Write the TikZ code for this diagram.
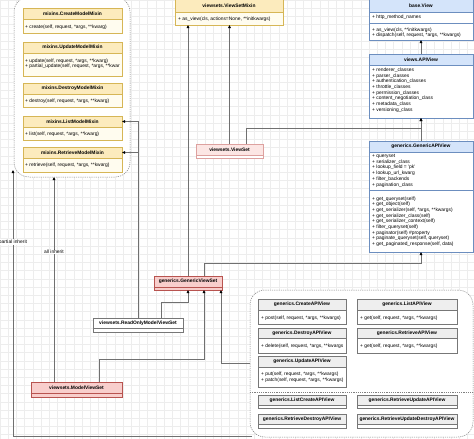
\documentclass[tikz,border=0pt]{standalone}
\usepackage{fontspec}
\setmainfont{Liberation Sans}
\usetikzlibrary{arrows.meta}
\definecolor{yelH}{HTML}{FCEBBD}
\definecolor{yelB}{HTML}{FFFCEF}
\definecolor{yelD}{HTML}{D6B656}
\definecolor{bluH}{HTML}{D4E4FA}
\definecolor{bluD}{HTML}{6C8EBF}
\definecolor{gryH}{HTML}{EEEEEE}
\definecolor{gryD}{HTML}{777777}
\definecolor{pnkH}{HTML}{F8CECC}
\definecolor{pnkD}{HTML}{B85450}
\definecolor{lpkH}{HTML}{FCE6E4}
\definecolor{lpkD}{HTML}{DDA19F}
\definecolor{lineC}{HTML}{707070}
\definecolor{gridC}{HTML}{EDEDED}
\newcommand\klass[8]{%
  \node[#8h, minimum width=#4pt, minimum height=#5pt] (#1) at (#2,#3) {#7};
  \node[#8b, minimum width=#4pt, minimum height=#6pt] (#1b) at (#1.south west) {};}
\begin{document}
\begin{tikzpicture}[x=1pt,y=-1pt,
  box/.style={draw, inner sep=0pt, outer sep=0pt, anchor=north west, line width=0.5pt},
  hd/.style={box, font=\fontsize{4.9}{5.7}\selectfont\bfseries},
  yelh/.style={hd, fill=yelH, draw=yelD}, yelb/.style={box, fill=yelB, draw=yelD},
  bluh/.style={hd, fill=bluH, draw=bluD}, blub/.style={box, fill=white, draw=bluD},
  gryh/.style={hd, fill=gryH, draw=gryD}, gryb/.style={box, fill=white, draw=gryD},
  pnkh/.style={hd, fill=pnkH, draw=pnkD}, pnkb/.style={box, fill=pnkH, draw=pnkD},
  lpkh/.style={hd, fill=lpkH, draw=lpkD}, lpkb/.style={box, fill=white, draw=lpkD},
  whth/.style={hd, fill=white, draw=gryD}, whtb/.style={box, fill=white, draw=gryD},
  txt/.style={anchor=west, inner sep=0pt, font=\fontsize{4.9}{5.7}\selectfont},
  conn/.style={draw=lineC, line width=0.8pt, -{Triangle[length=3pt,width=2.6pt,color=black]}},
  cont/.style={draw=gray, dash pattern=on 1.2pt off 1pt, rounded corners=15pt, fill=white, anchor=north west, inner sep=0pt, outer sep=0pt, line width=0.5pt},
  lbl/.style={fill=white, inner sep=0.6pt, font=\fontsize{4.9}{5.7}\selectfont}]
\useasboundingbox (0,0) rectangle (474,439);
\clip (0,0) rectangle (474,439);
\fill[white] (0,0) rectangle (474,439);
\foreach \i in {0,...,58} \draw[gridC, line width=0.3pt] (\i*8.2,0) -- (\i*8.2,439);
\foreach \i in {0,...,54} \draw[gridC, line width=0.3pt] (0,\i*8.2) -- (474,\i*8.2);

% containers
\node[cont, minimum width=116pt, minimum height=180pt] (mixbox) at (14,-3) {};
\node[cont, minimum width=223pt, minimum height=147pt] (genbox) at (250,290) {};
\coordinate (sepL) at (250,392);
\coordinate (sepR) at (473,392);
\draw[draw=gray, dash pattern=on 1.2pt off 1pt, line width=0.5pt] (sepL) -- (sepR);

% mixins
\klass{cmix}{23}{8}{99}{11}{14}{mixins.CreateModelMixin}{yel}
\node[txt] (cmix1) at (25,27) {+ create(self, request, *args, **kwarg)};
\klass{umix}{23}{42}{99}{11}{23}{mixins.UpdateModelMixin}{yel}
\node[txt] (umix1) at (25,61) {+ update(self, request, *args, **kwarg)};
\node[txt] (umix2) at (25,66.5) {+ partial\_update(self, request, *args, **kwar};
\klass{dmix}{23}{83}{99}{11}{13}{mixins.DestroyModelMixin}{yel}
\node[txt] (dmix1) at (25,101.5) {+ destroy(self, request, *args, **kwarg)};
\klass{lmix}{23}{116}{99}{11}{13}{mixins.ListModelMixin}{yel}
\node[txt] (lmix1) at (25,134.5) {+ list(self, request, *args, **kwarg)};
\klass{rmix}{23}{147}{99}{11}{14}{mixins.RetrieveModelMixin}{yel}
\node[txt] (rmix1) at (25,165.5) {+ retrieve(self, request, *args, **kwarg)};

% ViewSetMixin
\klass{vsm}{175}{-1}{108}{13}{13}{viewsets.ViewSetMixin}{yel}
\node[txt] (vsm1) at (178,19.5) {+ as\_view(cls, actions=None, **initkwargs)};

% base.View
\klass{bview}{369}{-1}{104}{13}{11}{base.View}{blu}
\node[blub, minimum width=104pt, minimum height=17pt] (bview2) at (bviewb.south west) {};
\node[txt] (bv1) at (372,17) {+ http\_method\_names};
\node[txt] (bv2) at (372,30) {+ as\_view(cls, **initkwargs)};
\node[txt] (bv3) at (372,35.6) {+ dispatch(self, request, *args, **kwargs)};

% views.APIView
\klass{api}{369}{54}{104}{11}{53}{views.APIView}{blu}
\foreach \t [count=\k from 0] in {renderer\_classes, parser\_classes, authentication\_classes, throttle\_classes, permission\_classes, content\_negotiation\_class, metadata\_class, versioning\_class}
  \node[txt] (api-\k) at (372,70.3+5.67*\k) {+ \t};

% generics.GenericAPIView
\klass{gapi}{369}{141}{104}{11}{38}{generics.GenericAPIView}{blu}
\node[blub, minimum width=104pt, minimum height=62pt] (gapi2) at (gapib.south west) {};
\foreach \t [count=\k from 0] in {queryset, serializer\_class, lookup\_field = \textquotesingle pk\textquotesingle, lookup\_url\_kwarg, filter\_backends, pagination\_class}
  \node[txt] (ga-\k) at (372,156+5.8*\k) {+ \t};
\foreach \t [count=\k from 0] in {get\_queryset(self), get\_object(self), {get\_serializer(self, *args, **kwargs)}, get\_serializer\_class(self), get\_serializer\_context(self), filter\_queryset(self), paginator(self) \#property, {paginate\_queryset(self, queryset)}, {get\_paginated\_response(self, data)}}
  \node[txt] (gm-\k) at (372,199+5.66*\k) {+ \t};

% viewsets
\klass{vs}{196}{144}{67}{11}{3}{viewsets.ViewSet}{lpk}
\klass{gvs}{154}{276}{68}{11}{3}{generics.GenericViewSet}{pnk}
\klass{romvs}{93}{318}{90}{10}{4}{viewsets.ReadOnlyModelViewSet}{wht}
\klass{mvs}{31}{382}{91}{11}{4}{viewsets.ModelViewSet}{pnk}

% generic API views
\klass{cav}{258}{299}{88}{11}{14}{generics.CreateAPIView}{gry}
\node[txt] (cav1) at (261,318.5) {+ post(self, request, *args, **kwargs)};
\klass{lav}{357}{299}{100}{11}{14}{generics.ListAPIView}{gry}
\node[txt] (lav1) at (360,318.5) {+ get(self, request, *args, **kwargs)};
\klass{dav}{258}{328}{88}{10}{15}{generics.DestroyAPIView}{gry}
\node[txt] (dav1) at (261,346.5) {+ delete(self, request, *args, **kwargs};
\klass{rav}{357}{328}{100}{10}{15}{generics.RetrieveAPIView}{gry}
\node[txt] (rav1) at (360,346.5) {+ get(self, request, *args, **kwargs)};
\klass{uav}{258}{356}{88}{11}{20}{generics.UpdateAPIView}{gry}
\node[txt] (uav1) at (261,374) {+ put(self, request, *args, **kwargs)};
\node[txt] (uav2) at (261,380) {+ patch(self, request, *args, **kwargs)};
\klass{lcav}{258}{395}{88}{10}{3}{generics.ListCreateAPIView}{gry}
\klass{ruav}{357}{395}{100}{10}{3}{generics.RetrieveUpdateAPIView}{gry}
\klass{rdav}{258}{414}{88}{10}{4}{generics.RetrieveDestroyAPIView}{gry}
\klass{rudav}{357}{414}{100}{10}{4}{generics.RetrieveUpdateDestroyAPIView}{gry}

% connectors
\coordinate (j1) at (421,128);
\coordinate (j2) at (421,263);
\coordinate (j3) at (188,302);
\coordinate (j4) at (204,359);
\coordinate (pStart) at (252,436);
\coordinate (pEnd) at (13,170);
\draw[conn] (api.north) -- (bview2.south);
\draw[conn] (gapi.north) -- (apib.south);
\draw[conn] ([xshift=16.5pt]vs.north) |- (j1) -- (apib.south);
\draw[conn] (vs.north) -- (vs.north |- vsmb.south);
\draw[conn] (gvs.north) -- (gvs.north |- vsmb.south);
\draw[conn] ([xshift=16pt]gvs.north) |- (j2) -- (gapi2.south);
\draw[conn] (romvs.north) |- (lmix.east);
\draw[conn] (romvs.north) |- (rmix.east);
\draw[conn] ([xshift=23pt]romvs.north) |- (j3) -- (gvsb.south);
\draw[conn] ([xshift=22.5pt]mvs.north) |- (j4) -- ([xshift=16pt]gvsb.south);
\draw[conn] ([xshift=-22.5pt]mvs.north) -- ([xshift=-22.5pt]mvs.north |- mixbox.south)
  node[lbl, pos=0.634] (allinh) {all inherit};
\draw[conn] (genbox.west) -| ([xshift=33pt]gvsb.south);
\draw[conn] (pStart) -| (pEnd);
\node[lbl] (partinh) at (13,242) {partial inherit};
\end{tikzpicture}
\end{document}
